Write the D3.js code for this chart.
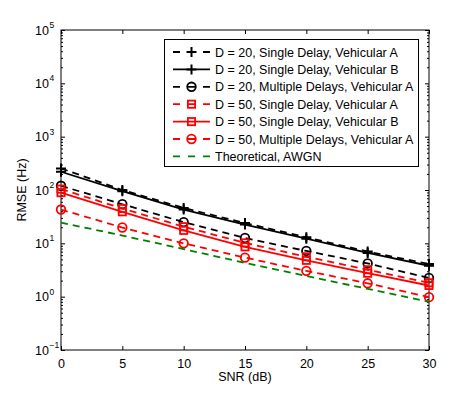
<!DOCTYPE html>
<meta charset="utf-8">
<style>
body { margin: 0; background: #fff; }
svg { font-family: "Liberation Sans", Arial, Helvetica, sans-serif; }
.axis path, .axis line { stroke: #000; }
</style>
<svg width="474" height="393"></svg>
<script src="https://cdn.jsdelivr.net/npm/d3@7"></script>
<script>

var snr = [0, 5, 10, 15, 20, 25, 30];

var d20SingleA = [254, 100, 46, 24, 13, 7.0, 4.1];
var d20SingleB = [220, 95, 43, 22.5, 12.2, 6.6, 3.8];
var d20MultiA  = [120, 54, 25, 12.6, 7.2, 4.2, 2.24];
var d50SingleA = [104, 45, 20.5, 10.2, 5.6, 3.2, 1.82];
var d50SingleB = [89, 39, 17.5, 8.6, 4.8, 2.75, 1.62];
var d50MultiA  = [43, 19.8, 10, 5.4, 3.05, 1.78, 0.98];
var awgn       = [24.5, 14, 7.8, 4.3, 2.45, 1.4, 0.8];

var xTicks = [0, 5, 10, 15, 20, 25, 30];
var yExponents = [-1, 0, 1, 2, 3, 4, 5];

var series = [
  {name: "D = 20, Single Delay, Vehicular A",    values: d20SingleA, color: "#000", dash: true,  marker: "plus"},
  {name: "D = 20, Single Delay, Vehicular B",    values: d20SingleB, color: "#000", dash: false, marker: "plus"},
  {name: "D = 20, Multiple Delays, Vehicular A", values: d20MultiA,  color: "#000", dash: true,  marker: "circle"},
  {name: "D = 50, Single Delay, Vehicular A",    values: d50SingleA, color: "#f00", dash: true,  marker: "square"},
  {name: "D = 50, Single Delay, Vehicular B",    values: d50SingleB, color: "#f00", dash: false, marker: "square"},
  {name: "D = 50, Multiple Delays, Vehicular A", values: d50MultiA,  color: "#f00", dash: true,  marker: "circle"},
  {name: "Theoretical, AWGN",                    values: awgn,       color: "#008000", dash: true, marker: null}
];

var svg = d3.select("svg");
var pLeft = 61, pRight = 429, pTop = 30, pBottom = 350;

var x = d3.scaleLinear().domain([0, 30]).range([pLeft, pRight]);
var y = d3.scaleLog().domain([0.1, 1e5]).range([pBottom, pTop]);

var major = yExponents.map(function(e) { return Math.pow(10, e); });
var minor = [];
yExponents.slice(0, -1).forEach(function(e) {
  for (var k = 2; k <= 9; k++) minor.push(k * Math.pow(10, e));
});

// box
svg.append("rect")
    .attr("x", pLeft).attr("y", pTop)
    .attr("width", pRight - pLeft).attr("height", pBottom - pTop)
    .attr("fill", "none").attr("stroke", "#000").attr("stroke-width", 1);

// ticks (inward, all four sides)
function noDomain(g) { g.select(".domain").remove(); }

svg.append("g").attr("class", "axis")
    .attr("transform", "translate(0," + pBottom + ")")
    .call(d3.axisBottom(x).tickValues(xTicks).tickSize(-4).tickPadding(9))
    .call(noDomain)
    .selectAll("text").attr("font-size", 12.5).attr("font-family", null);
svg.append("g").attr("class", "axis")
    .attr("transform", "translate(0," + pTop + ")")
    .call(d3.axisTop(x).tickValues(xTicks).tickSize(-4).tickFormat(""))
    .call(noDomain);

[[d3.axisLeft, pLeft], [d3.axisRight, pRight]].forEach(function(a) {
  svg.append("g").attr("class", "axis")
      .attr("transform", "translate(" + a[1] + ",0)")
      .call(a[0](y).tickValues(major).tickSize(-4).tickFormat(""))
      .call(noDomain);
  svg.append("g").attr("class", "axis")
      .attr("transform", "translate(" + a[1] + ",0)")
      .call(a[0](y).tickValues(minor).tickSize(-2).tickFormat(""))
      .call(noDomain);
});

// y tick labels 10^n
var ylab = svg.append("g").attr("font-size", 12.5);
yExponents.forEach(function(e) {
  ylab.append("text")
      .attr("x", 49).attr("y", y(Math.pow(10, e)) + 4.5)
      .attr("text-anchor", "end")
      .text("10");
  ylab.append("text")
      .attr("x", 49.5).attr("y", y(Math.pow(10, e)) - 2)
      .attr("font-size", 8.5)
      .text(e < 0 ? "\u2212" + Math.abs(e) : e);
});

svg.append("text")
    .attr("x", (pLeft + pRight) / 2).attr("y", 381)
    .attr("text-anchor", "middle").attr("font-size", 12.5)
    .text("SNR (dB)");
svg.append("text")
    .attr("transform", "translate(26," + ((pTop + pBottom) / 2) + ") rotate(-90)")
    .attr("text-anchor", "middle").attr("font-size", 12.5)
    .text("RMSE (Hz)");

// lines
var line = d3.line()
    .x(function(d, i) { return x(snr[i]); })
    .y(function(d) { return y(d); });

function drawMarker(g, type, cx, cy, color) {
  if (type === "plus") {
    g.append("path")
        .attr("d", "M" + (cx - 5) + "," + cy + "H" + (cx + 5) + "M" + cx + "," + (cy - 5) + "V" + (cy + 5))
        .attr("stroke", color).attr("stroke-width", 2);
  } else if (type === "circle") {
    g.append("circle").attr("cx", cx).attr("cy", cy).attr("r", 4.3)
        .attr("fill", "none").attr("stroke", color).attr("stroke-width", 1.8);
  } else if (type === "square") {
    g.append("rect").attr("x", cx - 3.6).attr("y", cy - 3.6)
        .attr("width", 7.2).attr("height", 7.2)
        .attr("fill", "none").attr("stroke", color).attr("stroke-width", 1.8);
  }
}

var plot = svg.append("g");
series.forEach(function(s) {
  plot.append("path")
      .attr("d", line(s.values))
      .attr("fill", "none")
      .attr("stroke", s.color)
      .attr("stroke-width", 1.8)
      .attr("stroke-dasharray", s.dash ? "7,5" : null);
  if (s.marker) {
    s.values.forEach(function(v, i) {
      drawMarker(plot, s.marker, x(snr[i]), y(v), s.color);
    });
  }
});

// legend
var lg = svg.append("g");
lg.append("rect")
    .attr("x", 164.5).attr("y", 39.5).attr("width", 254).attr("height", 127)
    .attr("fill", "#fff").attr("stroke", "#000").attr("stroke-width", 1);
series.forEach(function(s, i) {
  var cy = 52 + i * 17.4;
  lg.append("path")
      .attr("d", "M173," + cy + "H210")
      .attr("fill", "none")
      .attr("stroke", s.color)
      .attr("stroke-width", 1.8)
      .attr("stroke-dasharray", s.dash ? "7,8" : null);
  if (s.marker) drawMarker(lg, s.marker, 191.5, cy, s.color);
  lg.append("text")
      .attr("x", 215).attr("y", cy + 4.5)
      .attr("font-size", 12.5)
      .text(s.name);
});

</script>
